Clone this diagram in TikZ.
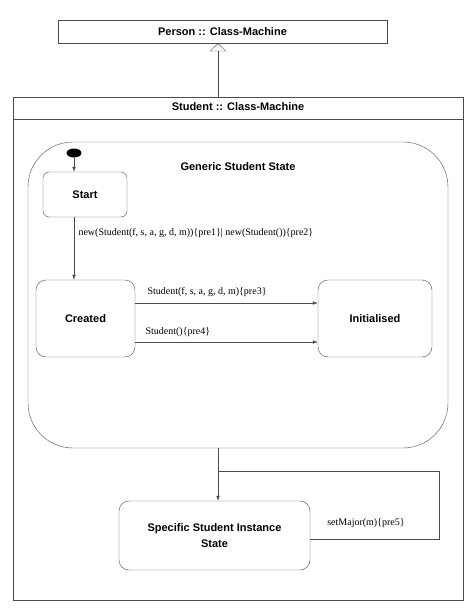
\documentclass[tikz,border=0pt]{standalone}
\usepackage{fontspec}
\setmainfont{Liberation Serif}
\setsansfont{Liberation Sans}
\usetikzlibrary{arrows.meta,shapes.geometric}

\begin{document}
\begin{tikzpicture}[x=1pt,y=-1pt]
\tikzstyle{every node}=[font=\fontsize{10}{12}\selectfont]
\tikzstyle{title}=[font=\sffamily\bfseries\fontsize{11}{16}\selectfont,align=center]
\tikzstyle{classbox}=[draw=black!70,inner sep=0pt]
\tikzstyle{state}=[draw=black!70,title,inner sep=0pt,rounded corners=8pt]
\tikzstyle{trans}=[draw=black!70,-{Latex[length=5pt,width=3.5pt]}]
\useasboundingbox (0,0) rectangle (474,616);

% class machines
\node[classbox,minimum width=329,minimum height=23,title] (person) at (222.5,31.5) {Person :: Class-Machine};
\node[classbox,minimum width=450,minimum height=503] (student) at (238,348.5) {};
\draw[black!70] ([yshift=-22pt]student.north west) -- ([yshift=-22pt]student.north east);
\node[title] (studenthead) at (238,107) {Student :: Class-Machine};
\coordinate (trunk) at (218,471);
\draw[black!70,-{Triangle[open,length=8pt,width=16pt]}] (student.north -| trunk) -- (person.south -| trunk);

% generic state
\node[state,rounded corners=45pt,minimum width=420,minimum height=306] (generic) at (238,295) {};
\node[title] (generichead) at (238,167) {Generic Student State};
\node[ellipse,fill=black,inner sep=0pt,minimum width=15,minimum height=9] (init) at (74,153) {};
\node[state,rounded corners=6pt,minimum width=84,minimum height=45] (start) at (85,194.5) {Start};
\node[state,rounded corners=10pt,minimum width=99,minimum height=77] (created) at (85.5,318.5) {Created};
\node[state,rounded corners=10pt,minimum width=114,minimum height=77] (initialised) at (375,318.5) {Initialised};

\draw[trans] (init) -- (init |- start.north);
\draw[trans] (start.south -| init) -- (created.north -| init)
  node[pos=0.25,anchor=west,xshift=1pt] {new(Student(f, s, a, g, d, m))\{pre1\}| new(Student())\{pre2\}};
\draw[trans] ([yshift=15.5pt]created.east) -- ([yshift=15.5pt]initialised.west);
\node[anchor=west] (lblpre3) at (144,292) {Student(f, s, a, g, d, m)\{pre3\}};
\draw[trans] ([yshift=-23.5pt]created.east) -- ([yshift=-23.5pt]initialised.west);
\node[anchor=west] (lblpre4) at (142,332) {Student()\{pre4\}};

% specific state
\node[state,rounded corners=10pt,minimum width=191,minimum height=69] (specific) at (214.5,535.5) {Specific Student Instance\\State};
\draw[trans] (generic.south -| trunk) -- (specific.north -| trunk);
\draw[black!70] ([yshift=-3.5pt]specific.east) -- ++(129,0) |- (trunk);
\node (lblpre5) at (366,523) {setMajor(m)\{pre5\}};

\end{tikzpicture}
\end{document}
